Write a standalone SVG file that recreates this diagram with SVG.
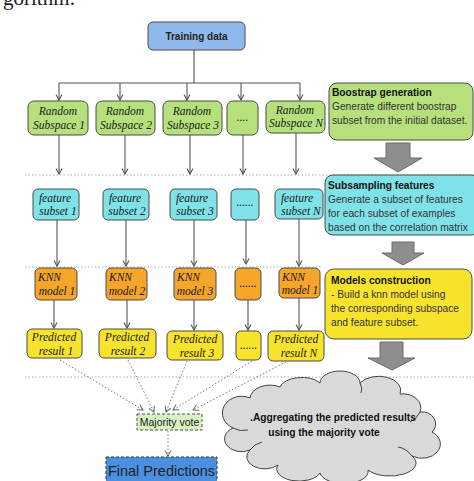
<svg xmlns="http://www.w3.org/2000/svg" width="474" height="481" viewBox="0 0 474 481">
<defs>
<marker id="ah" markerUnits="userSpaceOnUse" markerWidth="8" markerHeight="8" refX="6" refY="4" orient="auto">
<path d="M0.5,1 L6,4 L0.5,7" fill="none" stroke="#555" stroke-width="1.1"/>
</marker>
<marker id="ahd" markerUnits="userSpaceOnUse" markerWidth="8" markerHeight="8" refX="6" refY="4" orient="auto">
<path d="M0.5,1 L6,4 L0.5,7" fill="none" stroke="#666" stroke-width="1"/>
</marker>
<style>
.box{stroke:#4a4a4a;stroke-width:1}
.rs{fill:#b6e07c}
.fs{fill:#7fe2e8}
.km{fill:#f4a52a}
.pr{fill:#f7e32c}
.it{font-family:"Liberation Serif","Times New Roman",serif;font-style:italic;font-size:11.5px;fill:#1a1a1a;text-anchor:middle}
.st{text-anchor:start}
.sans{font-family:"Liberation Sans",Arial,sans-serif;fill:#222}
.hd{font-family:"Liberation Sans",Arial,sans-serif;font-weight:bold;font-size:10.2px;fill:#111}
.bd{font-family:"Liberation Sans",Arial,sans-serif;font-size:10.2px;fill:#333}
.ln{stroke:#555;stroke-width:1.1;fill:none}
.dot{stroke:#777;stroke-width:1;stroke-dasharray:1.5,2;fill:none}
.sep{stroke:#aaa;stroke-width:1;stroke-dasharray:1.5,2;fill:none}
.garrow{fill:#8e8e8e;stroke:#6a6a6a;stroke-width:1}
</style>
</defs>
<rect width="474" height="481" fill="#fff"/>
<text x="3" y="5" font-family="Liberation Serif,'Times New Roman',serif" font-size="21" fill="#222">gorithm:</text>

<g id="separators">
<line class="sep" x1="25" y1="175" x2="474" y2="175"/>
<line class="sep" x1="25" y1="267" x2="322" y2="267"/>
<line class="sep" x1="25" y1="377" x2="474" y2="377"/>
</g>

<g id="connectors">
<path class="ln" d="M194,50 V83 M59,83 H300"/>
<path class="ln" d="M59,83 V100" marker-end="url(#ah)"/>
<path class="ln" d="M120,83 V100" marker-end="url(#ah)"/>
<path class="ln" d="M187,83 V100" marker-end="url(#ah)"/>
<path class="ln" d="M241,83 V100" marker-end="url(#ah)"/>
<path class="ln" d="M300,83 V100" marker-end="url(#ah)"/>

<path class="ln" d="M59,135 V174" marker-end="url(#ah)"/>
<path class="ln" d="M125,135 V174" marker-end="url(#ah)"/>
<path class="ln" d="M190,135 V174" marker-end="url(#ah)"/>
<path class="ln" d="M243,135 V174" marker-end="url(#ah)"/>
<path class="ln" d="M296,133 V174" marker-end="url(#ah)"/>

<path class="ln" d="M57,220 V266" marker-end="url(#ah)"/>
<path class="ln" d="M126,220 V266" marker-end="url(#ah)"/>
<path class="ln" d="M194,220 V266" marker-end="url(#ah)"/>
<path class="ln" d="M246,220 V264" marker-end="url(#ah)"/>
<path class="ln" d="M299,219 V266" marker-end="url(#ah)"/>

<path class="ln" d="M54,300 V328" marker-end="url(#ah)"/>
<path class="ln" d="M127,300 V328" marker-end="url(#ah)"/>
<path class="ln" d="M194,300 V330" marker-end="url(#ah)"/>
<path class="ln" d="M248,300 V330" marker-end="url(#ah)"/>
<path class="ln" d="M299,298 V330" marker-end="url(#ah)"/>

<path class="dot" d="M60,360 L143,410" marker-end="url(#ahd)"/>
<path class="dot" d="M128,360 L154,412" marker-end="url(#ahd)"/>
<path class="dot" d="M187,361 L166,412" marker-end="url(#ahd)"/>
<path class="dot" d="M252,361 L173,410" marker-end="url(#ahd)"/>
<path class="dot" d="M286,362 L193,410" marker-end="url(#ahd)"/>
<path class="dot" d="M168,431 V456" marker-end="url(#ahd)"/>
</g>

<g id="training">
<rect class="box" x="148" y="22" width="97" height="28" rx="5" fill="#8fb9ec"/>
<text class="sans" x="196.5" y="40" font-size="10" font-weight="bold" text-anchor="middle" fill="#111">Training data</text>
</g>

<g id="rs1"><rect class="box rs" x="28" y="101" width="60" height="34" rx="6"/>
<text class="it" x="58" y="115">Random</text><text class="it" x="59" y="129">Subspace 1</text></g>
<g id="rs2"><rect class="box rs" x="96" y="101" width="59" height="34" rx="6"/>
<text class="it" x="125" y="115">Random</text><text class="it" x="126" y="129">Subspace 2</text></g>
<g id="rs3"><rect class="box rs" x="163" y="101" width="59" height="34" rx="6"/>
<text class="it" x="192" y="115">Random</text><text class="it" x="193" y="129">Subspace 3</text></g>
<g id="rs4"><rect class="box rs" x="227" y="101" width="31" height="34" rx="6"/>
<text class="it" x="242.5" y="121" font-style="normal">....</text></g>
<g id="rsN"><rect class="box rs" x="266" y="101" width="59" height="32" rx="6"/>
<text class="it" x="295" y="114">Random</text><text class="it" x="296" y="127">Subspace N</text></g>

<g id="fs1"><rect class="box fs" x="33" y="189" width="46" height="31" rx="5"/>
<text class="it" x="55" y="202">feature</text><text class="it" x="58" y="215">subset 1</text></g>
<g id="fs2"><rect class="box fs" x="103" y="189" width="46" height="31" rx="5"/>
<text class="it" x="125" y="202">feature</text><text class="it" x="127" y="215">subset 2</text></g>
<g id="fs3"><rect class="box fs" x="170" y="189" width="47" height="31" rx="5"/>
<text class="it" x="192" y="202">feature</text><text class="it" x="195" y="215">subset 3</text></g>
<g id="fs4"><rect class="box fs" x="231" y="189" width="28" height="31" rx="5"/>
<text class="it" x="245" y="206" font-style="normal" font-size="9">......</text></g>
<g id="fsN"><rect class="box fs" x="275" y="189" width="48" height="30" rx="5"/>
<text class="it" x="297" y="202">feature</text><text class="it" x="301" y="215">subset N</text></g>

<g id="km1"><rect class="box km" x="35" y="268" width="42" height="32" rx="5"/>
<text class="it st" x="38" y="281">KNN</text><text class="it" x="57" y="295">model 1</text></g>
<g id="km2"><rect class="box km" x="106" y="268" width="41" height="32" rx="5"/>
<text class="it st" x="109" y="281">KNN</text><text class="it" x="127" y="295">model 2</text></g>
<g id="km3"><rect class="box km" x="174" y="268" width="42" height="32" rx="5"/>
<text class="it st" x="177" y="281">KNN</text><text class="it" x="195" y="295">model 3</text></g>
<g id="km4"><rect class="box km" x="235" y="268" width="26" height="32" rx="5"/>
<text class="it" x="248" y="287" font-style="normal" font-size="9">......</text></g>
<g id="kmN"><rect class="box km" x="279" y="268" width="41" height="30" rx="5"/>
<text class="it st" x="282" y="281">KNN</text><text class="it" x="300" y="294">model 1</text></g>

<g id="pr1"><rect class="box pr" x="27" y="329" width="55" height="29" rx="5"/>
<text class="it" x="54" y="341">Predicted</text><text class="it" x="56" y="355">result 1</text></g>
<g id="pr2"><rect class="box pr" x="99" y="329" width="57" height="29" rx="5"/>
<text class="it" x="127" y="341">Predicted</text><text class="it" x="128" y="355">result 2</text></g>
<g id="pr3"><rect class="box pr" x="167" y="331" width="56" height="29" rx="5"/>
<text class="it" x="195" y="343">Predicted</text><text class="it" x="197" y="357">result 3</text></g>
<g id="pr4"><rect class="box pr" x="236" y="331" width="25" height="29" rx="5"/>
<text class="it" x="248.5" y="349" font-style="normal" font-size="9">......</text></g>
<g id="prN"><rect class="box pr" x="268" y="331" width="56" height="30" rx="5"/>
<text class="it" x="296" y="343">Predicted</text><text class="it" x="299" y="357">result N</text></g>

<g id="majority">
<rect x="137" y="414" width="65" height="16" fill="#d6f1c3" stroke="#555" stroke-width="1" stroke-dasharray="3,2"/>
<text class="sans" x="169.5" y="426" font-size="10.5" text-anchor="middle" fill="#333">Majority vote</text>
</g>

<g id="final">
<rect x="106" y="457" width="111" height="30" fill="#4a8fe0" stroke="#333" stroke-width="1" stroke-dasharray="3,2"/>
<text class="sans" x="161.5" y="476" font-size="14.5" text-anchor="middle" fill="#1a1a1a">Final Predictions</text>
</g>

<g id="bootstrap">
<rect class="box" x="329" y="83" width="144" height="57" rx="8" fill="#b6e07c"/>
<text class="hd" x="332" y="96">Boostrap generation</text>
<text class="bd" x="332" y="110">Generate different boostrap</text>
<text class="bd" x="332" y="124">subset from the initial dataset.</text>
</g>
<g id="arrow1"><path class="garrow" d="M386,143 H410 V158 H422 L398,172 L374,158 H386 Z"/></g>

<g id="subsampling">
<rect class="box" x="325" y="175" width="155" height="60" rx="8" fill="#7fe2e8"/>
<text class="hd" x="328" y="189">Subsampling features</text>
<text class="bd" x="328" y="203">Generate a subset of features</text>
<text class="bd" x="328" y="217">for each subset of examples</text>
<text class="bd" x="328" y="231">based on the correlation matrix</text>
</g>
<g id="arrow2"><path class="garrow" d="M392,242 H414 V253 H424 L403,265 L382,253 H392 Z"/></g>

<g id="models">
<rect class="box" x="325" y="269" width="147" height="70" rx="9" fill="#f7e32c"/>
<text class="hd" x="331" y="284">Models construction</text>
<text class="bd" x="331" y="298">- Build a knn model using</text>
<text class="bd" x="331" y="312">the corresponding subspace</text>
<text class="bd" x="331" y="326">and feature subset.</text>
</g>
<g id="arrow3"><path class="garrow" d="M380,342 H403 V358 H415 L392,370 L368,358 H380 Z"/></g>

<g id="cloud">
<path d="M250,398 A20,14 0 0 1 280,387 A22,12 0 0 1 320,383 A20,12 0 0 1 360,383 A22,14 0 0 1 400,394 A18,14 0 0 1 420,412 A14,12 0 0 1 432,432 A18,14 0 0 1 412,456 A24,12 0 0 1 368,470 A24,12 0 0 1 320,473 A22,12 0 0 1 278,465 A18,12 0 0 1 250,450 A16,12 0 0 1 233,428 A16,14 0 0 1 250,398 Z" fill="#d9d9d9" stroke="#444" stroke-width="1"/>
<path d="M233,428 Q240,432 248,430 M250,450 Q254,444 262,442 M420,412 Q416,420 410,422 M412,456 Q406,448 398,447 M360,383 Q363,389 361,393" fill="none" stroke="#444" stroke-width="1"/>
<text class="hd" x="333" y="421" text-anchor="middle">.Aggregating the predicted results</text>
<text class="hd" x="324" y="436" text-anchor="middle">using the majority vote</text>
</g>
</svg>
